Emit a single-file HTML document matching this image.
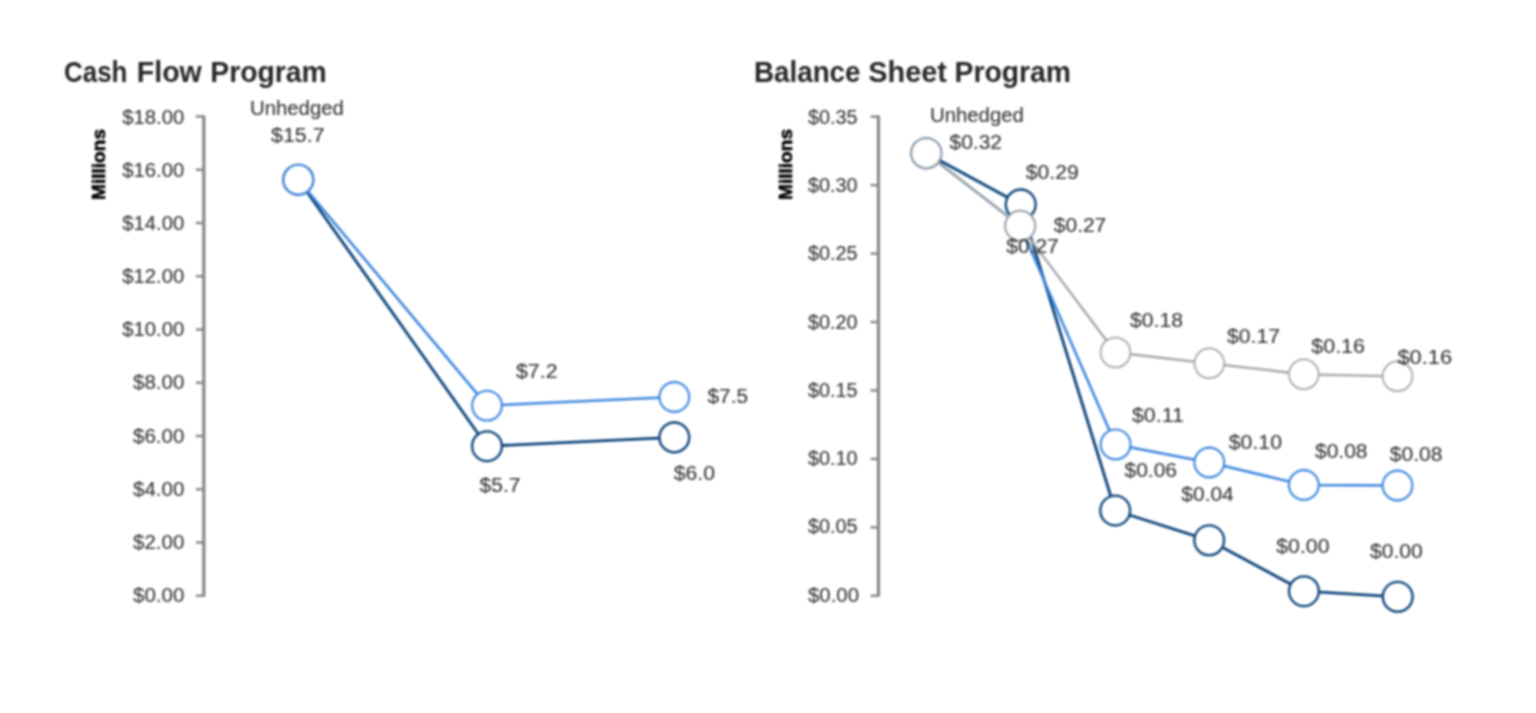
<!DOCTYPE html>
<html><head><meta charset="utf-8"><title>Hedge Programs</title>
<style>
html,body{margin:0;padding:0;background:#fff;}
body{width:1536px;height:713px;overflow:hidden;font-family:"Liberation Sans",sans-serif;}
svg{display:block;}
text{font-family:"Liberation Sans",sans-serif;}
.t{font-size:20px;fill:#353535;stroke:#353535;stroke-width:0.12px;}
.ttl{font-size:30px;font-weight:bold;fill:#25282a;}
.mil{font-size:19px;font-weight:bold;fill:#000;stroke:#000;stroke-width:0.6px;}
</style></head><body>
<svg width="1536" height="713" viewBox="0 0 1536 713">
<defs>
<filter id="bs" color-interpolation-filters="sRGB" filterUnits="userSpaceOnUse" x="0" y="0" width="1536" height="713"><feGaussianBlur stdDeviation="0.90"/></filter>
<filter id="bt" color-interpolation-filters="sRGB" filterUnits="userSpaceOnUse" x="0" y="0" width="1536" height="713"><feGaussianBlur stdDeviation="1.00"/></filter>
</defs>
<rect width="1536" height="713" fill="#fff"/>
<g filter="url(#bs)">
<g stroke="#868686" stroke-width="3.2" fill="none">
<line x1="203.80" y1="115.50" x2="203.80" y2="596.80"/>
</g><g stroke="#868686" stroke-width="2.4" fill="none">
<line x1="195.80" y1="116.50" x2="203.80" y2="116.50"/>
<line x1="195.80" y1="169.75" x2="203.80" y2="169.75"/>
<line x1="195.80" y1="223.00" x2="203.80" y2="223.00"/>
<line x1="195.80" y1="276.25" x2="203.80" y2="276.25"/>
<line x1="195.80" y1="329.50" x2="203.80" y2="329.50"/>
<line x1="195.80" y1="382.75" x2="203.80" y2="382.75"/>
<line x1="195.80" y1="436.00" x2="203.80" y2="436.00"/>
<line x1="195.80" y1="489.25" x2="203.80" y2="489.25"/>
<line x1="195.80" y1="542.50" x2="203.80" y2="542.50"/>
<line x1="195.80" y1="595.75" x2="203.80" y2="595.75"/>
</g>
<g stroke="#868686" stroke-width="3.2" fill="none">
<line x1="878.50" y1="115.50" x2="878.50" y2="596.80"/>
</g><g stroke="#868686" stroke-width="2.4" fill="none">
<line x1="870.50" y1="116.70" x2="878.50" y2="116.70"/>
<line x1="870.50" y1="185.14" x2="878.50" y2="185.14"/>
<line x1="870.50" y1="253.58" x2="878.50" y2="253.58"/>
<line x1="870.50" y1="322.02" x2="878.50" y2="322.02"/>
<line x1="870.50" y1="390.46" x2="878.50" y2="390.46"/>
<line x1="870.50" y1="458.90" x2="878.50" y2="458.90"/>
<line x1="870.50" y1="527.34" x2="878.50" y2="527.34"/>
<line x1="870.50" y1="595.78" x2="878.50" y2="595.78"/>
</g>
<polyline points="298.30,179.70 487.00,446.20 674.30,437.40" fill="none" stroke="#0c447a" stroke-width="2.85" stroke-linejoin="round"/>
<circle cx="298.30" cy="179.70" r="14.90" fill="#fff" stroke="#0c447a" stroke-width="2.35"/>
<circle cx="487.00" cy="446.20" r="14.90" fill="#fff" stroke="#0c447a" stroke-width="2.35"/>
<circle cx="674.30" cy="437.40" r="14.90" fill="#fff" stroke="#0c447a" stroke-width="2.35"/>
<polyline points="298.30,179.70 487.00,405.60 674.30,397.00" fill="none" stroke="#3d86de" stroke-width="2.55" stroke-linejoin="round"/>
<circle cx="298.30" cy="179.70" r="14.90" fill="#fff" stroke="#3d86de" stroke-width="2.10"/>
<circle cx="487.00" cy="405.60" r="14.90" fill="#fff" stroke="#3d86de" stroke-width="2.10"/>
<circle cx="674.30" cy="397.00" r="14.90" fill="#fff" stroke="#3d86de" stroke-width="2.10"/>
<polyline points="926.30,153.20 1020.70,204.40 1115.20,510.50 1209.20,540.30 1303.90,591.20 1397.70,596.80" fill="none" stroke="#0c447a" stroke-width="2.85" stroke-linejoin="round"/>
<circle cx="926.30" cy="153.20" r="14.90" fill="#fff" stroke="#0c447a" stroke-width="2.35"/>
<circle cx="1020.70" cy="204.40" r="14.90" fill="#fff" stroke="#0c447a" stroke-width="2.35"/>
<circle cx="1115.20" cy="510.50" r="14.90" fill="#fff" stroke="#0c447a" stroke-width="2.35"/>
<circle cx="1209.20" cy="540.30" r="14.90" fill="#fff" stroke="#0c447a" stroke-width="2.35"/>
<circle cx="1303.90" cy="591.20" r="14.90" fill="#fff" stroke="#0c447a" stroke-width="2.35"/>
<circle cx="1397.70" cy="596.80" r="14.90" fill="#fff" stroke="#0c447a" stroke-width="2.35"/>
<polyline points="926.30,153.20 1020.20,225.80 1115.60,444.40 1209.30,462.50 1303.80,485.00 1397.50,485.50" fill="none" stroke="#3d86de" stroke-width="2.55" stroke-linejoin="round"/>
<circle cx="926.30" cy="153.20" r="14.90" fill="#fff" stroke="#3d86de" stroke-width="2.10"/>
<circle cx="1020.20" cy="225.80" r="14.90" fill="#fff" stroke="#3d86de" stroke-width="2.10"/>
<circle cx="1115.60" cy="444.40" r="14.90" fill="#fff" stroke="#3d86de" stroke-width="2.10"/>
<circle cx="1209.30" cy="462.50" r="14.90" fill="#fff" stroke="#3d86de" stroke-width="2.10"/>
<circle cx="1303.80" cy="485.00" r="14.90" fill="#fff" stroke="#3d86de" stroke-width="2.10"/>
<circle cx="1397.50" cy="485.50" r="14.90" fill="#fff" stroke="#3d86de" stroke-width="2.10"/>
<polyline points="926.30,153.20 1020.20,225.80 1115.50,352.50 1209.30,363.30 1303.80,374.30 1397.50,376.30" fill="none" stroke="#a4a4a4" stroke-width="2.30" stroke-linejoin="round"/>
<circle cx="926.30" cy="153.20" r="14.90" fill="#fff" stroke="#a4a4a4" stroke-width="1.75"/>
<circle cx="1020.20" cy="225.80" r="14.90" fill="#fff" stroke="#a4a4a4" stroke-width="1.75"/>
<circle cx="1115.50" cy="352.50" r="14.90" fill="#fff" stroke="#a4a4a4" stroke-width="1.75"/>
<circle cx="1209.30" cy="363.30" r="14.90" fill="#fff" stroke="#a4a4a4" stroke-width="1.75"/>
<circle cx="1303.80" cy="374.30" r="14.90" fill="#fff" stroke="#a4a4a4" stroke-width="1.75"/>
<circle cx="1397.50" cy="376.30" r="14.90" fill="#fff" stroke="#a4a4a4" stroke-width="1.75"/>
</g>
<g filter="url(#bt)">
<text class="ttl" x="64.00" y="81.90" textLength="63.40" lengthAdjust="spacingAndGlyphs">Cash</text>
<text class="ttl" x="136.80" y="81.90" textLength="65.00" lengthAdjust="spacingAndGlyphs">Flow</text>
<text class="ttl" x="210.30" y="81.90" textLength="116.50" lengthAdjust="spacingAndGlyphs">Program</text>
<text class="ttl" x="754.00" y="81.90" textLength="106.50" lengthAdjust="spacingAndGlyphs">Balance</text>
<text class="ttl" x="868.30" y="81.90" textLength="78.50" lengthAdjust="spacingAndGlyphs">Sheet</text>
<text class="ttl" x="954.60" y="81.90" textLength="116.40" lengthAdjust="spacingAndGlyphs">Program</text>
<text class="t" x="122.30" y="123.60" textLength="62.00" lengthAdjust="spacingAndGlyphs">$18.00</text>
<text class="t" x="122.30" y="176.75" textLength="62.00" lengthAdjust="spacingAndGlyphs">$16.00</text>
<text class="t" x="122.30" y="229.90" textLength="62.00" lengthAdjust="spacingAndGlyphs">$14.00</text>
<text class="t" x="122.30" y="283.05" textLength="62.00" lengthAdjust="spacingAndGlyphs">$12.00</text>
<text class="t" x="122.30" y="336.20" textLength="62.00" lengthAdjust="spacingAndGlyphs">$10.00</text>
<text class="t" x="133.00" y="389.35" textLength="51.30" lengthAdjust="spacingAndGlyphs">$8.00</text>
<text class="t" x="133.00" y="442.50" textLength="51.30" lengthAdjust="spacingAndGlyphs">$6.00</text>
<text class="t" x="133.00" y="495.65" textLength="51.30" lengthAdjust="spacingAndGlyphs">$4.00</text>
<text class="t" x="133.00" y="548.80" textLength="51.30" lengthAdjust="spacingAndGlyphs">$2.00</text>
<text class="t" x="133.00" y="601.95" textLength="51.30" lengthAdjust="spacingAndGlyphs">$0.00</text>
<text class="t" x="808.00" y="123.60" textLength="49.60" lengthAdjust="spacingAndGlyphs">$0.35</text>
<text class="t" x="808.00" y="191.90" textLength="49.60" lengthAdjust="spacingAndGlyphs">$0.30</text>
<text class="t" x="808.00" y="260.20" textLength="49.60" lengthAdjust="spacingAndGlyphs">$0.25</text>
<text class="t" x="808.00" y="328.50" textLength="49.60" lengthAdjust="spacingAndGlyphs">$0.20</text>
<text class="t" x="808.00" y="396.80" textLength="49.60" lengthAdjust="spacingAndGlyphs">$0.15</text>
<text class="t" x="808.00" y="465.10" textLength="49.60" lengthAdjust="spacingAndGlyphs">$0.10</text>
<text class="t" x="808.00" y="533.40" textLength="49.60" lengthAdjust="spacingAndGlyphs">$0.05</text>
<text class="t" x="808.00" y="601.70" textLength="51.00" lengthAdjust="spacingAndGlyphs">$0.00</text>
<text class="mil" transform="translate(105.20,200.00) rotate(-90)" textLength="71.00" lengthAdjust="spacingAndGlyphs">Millions</text>
<text class="mil" transform="translate(791.80,200.00) rotate(-90)" textLength="71.00" lengthAdjust="spacingAndGlyphs">Millions</text>
<text class="t" x="250.00" y="114.50" textLength="93.80" lengthAdjust="spacingAndGlyphs">Unhedged</text>
<text class="t" x="271.00" y="141.60" textLength="53.60" lengthAdjust="spacingAndGlyphs">$15.7</text>
<text class="t" x="516.00" y="377.90" textLength="41.50" lengthAdjust="spacingAndGlyphs">$7.2</text>
<text class="t" x="707.50" y="403.40" textLength="40.50" lengthAdjust="spacingAndGlyphs">$7.5</text>
<text class="t" x="479.50" y="492.40" textLength="41.00" lengthAdjust="spacingAndGlyphs">$5.7</text>
<text class="t" x="673.80" y="480.40" textLength="41.20" lengthAdjust="spacingAndGlyphs">$6.0</text>
<text class="t" x="930.00" y="121.50" textLength="93.80" lengthAdjust="spacingAndGlyphs">Unhedged</text>
<text class="t" x="949.50" y="148.90" textLength="52.50" lengthAdjust="spacingAndGlyphs">$0.32</text>
<text class="t" x="1025.80" y="178.90" textLength="53.00" lengthAdjust="spacingAndGlyphs">$0.29</text>
<text class="t" x="1053.80" y="231.90" textLength="52.50" lengthAdjust="spacingAndGlyphs">$0.27</text>
<text class="t" x="1006.30" y="253.20" textLength="52.50" lengthAdjust="spacingAndGlyphs">$0.27</text>
<text class="t" x="1130.00" y="326.90" textLength="53.00" lengthAdjust="spacingAndGlyphs">$0.18</text>
<text class="t" x="1227.00" y="342.70" textLength="53.00" lengthAdjust="spacingAndGlyphs">$0.17</text>
<text class="t" x="1311.30" y="353.40" textLength="53.70" lengthAdjust="spacingAndGlyphs">$0.16</text>
<text class="t" x="1397.50" y="364.40" textLength="54.50" lengthAdjust="spacingAndGlyphs">$0.16</text>
<text class="t" x="1132.00" y="421.90" textLength="51.80" lengthAdjust="spacingAndGlyphs">$0.11</text>
<text class="t" x="1228.80" y="448.70" textLength="53.20" lengthAdjust="spacingAndGlyphs">$0.10</text>
<text class="t" x="1315.00" y="457.90" textLength="52.50" lengthAdjust="spacingAndGlyphs">$0.08</text>
<text class="t" x="1389.80" y="461.40" textLength="52.70" lengthAdjust="spacingAndGlyphs">$0.08</text>
<text class="t" x="1124.50" y="477.20" textLength="52.50" lengthAdjust="spacingAndGlyphs">$0.06</text>
<text class="t" x="1181.30" y="501.40" textLength="52.50" lengthAdjust="spacingAndGlyphs">$0.04</text>
<text class="t" x="1276.30" y="553.20" textLength="53.20" lengthAdjust="spacingAndGlyphs">$0.00</text>
<text class="t" x="1370.00" y="558.40" textLength="52.80" lengthAdjust="spacingAndGlyphs">$0.00</text>
</g>
</svg></body></html>
